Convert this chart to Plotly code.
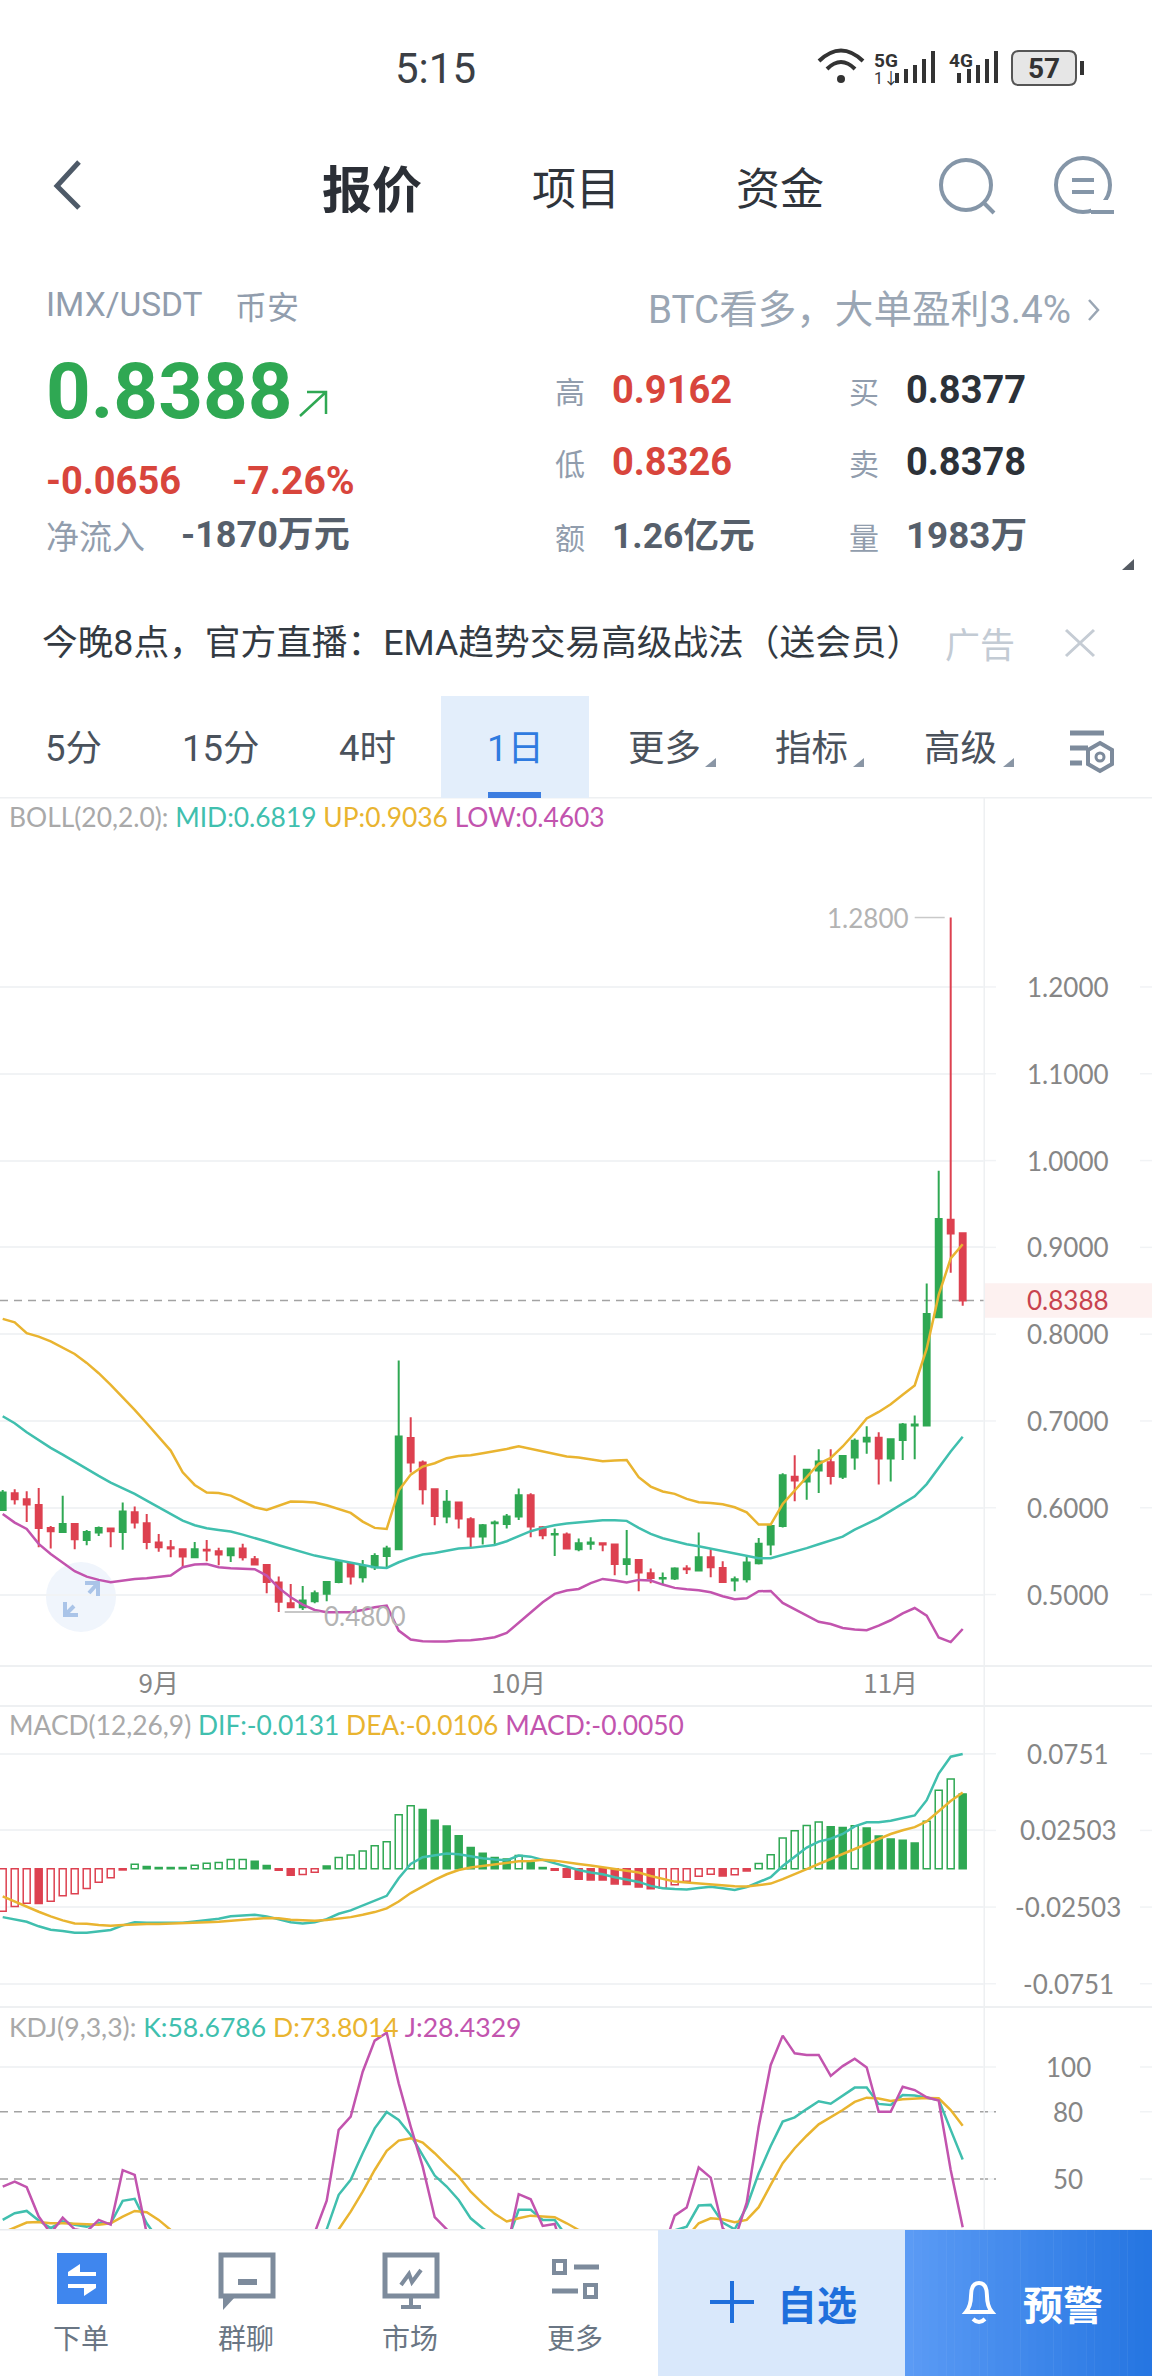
import plotly.graph_objects as go

W, H = 1152, 2376
GREEN = "#2fa853"
RED = "#dd4150"
TEAL = "#40bfae"
GOLD = "#e9b430"
PINK = "#c254ae"
AXIS_GREY = "#868686"
GRID = "#f1f3f5"
ICON = "#7d8b9c"
CN = "Noto Sans CJK SC"
NUM = "Roboto, Noto Sans CJK SC"
LAB = "Lato, Noto Sans CJK SC"

candle_open = [
    .5975, .6167, .6098, .6033, .5768, .5722, .5814, .5630, .5714, .5760,
    .5722, .5948, .5822, .5599, .5545, .5522, .5430, .5515, .5499, .5453,
    .5530, .5407, .5342, .5138, .4900, .4854, .4923, .5008, .5146, .5353,
    .5200, .5315, .5445, .5522, .6805, .6521, .6213, .5899, .6060, .5868,
    .5668, .5822, .5814, .5899, .6144, .5776, .5691, .5691, .5522, .5584,
    .5591, .5576, .5353, .5399, .5246, .5184, .5184, .5300, .5276, .5430,
    .5307, .5161, .5177, .5361, .5576, .5791, .6357, .6304, .6428, .6525,
    .6357, .6578, .6764, .6808, .6569, .6781, .6949, .6949, .8196, .9318, .9162,
]
candle_high = [
    .6206, .6213, .6190, .6229, .5791, .6137, .5820, .5745, .5783, .5768,
    .6060, .6014, .5929, .5699, .5630, .5530, .5607, .5630, .5538, .5530,
    .5584, .5445, .5346, .5207, .5123, .5100, .5046, .5146, .5392, .5369,
    .5399, .5476, .5561, .7696, .7043, .6544, .6220, .6206, .6068, .5891,
    .5814, .5852, .5929, .6221, .6167, .5791, .5760, .5714, .5645, .5660,
    .5599, .5584, .5745, .5407, .5300, .5253, .5315, .5338, .5714, .5530,
    .5384, .5207, .5453, .5653, .5806, .6397, .6604, .6437, .6675, .6675,
    .6604, .6799, .6940, .6870, .6799, .6976, .7064, .8585, .9884, 1.2800, .9162,
]
candle_low = [
    .5968, .6037, .5837, .5545, .5530, .5715, .5522, .5568, .5676, .5545,
    .5515, .5760, .5522, .5492, .5430, .5315, .5422, .5384, .5338, .5376,
    .5392, .5338, .5015, .4800, .4846, .4823, .4900, .4923, .5131, .5115,
    .5138, .5284, .5307, .5520, .6405, .6037, .5799, .5822, .5760, .5538,
    .5576, .5576, .5760, .5860, .5660, .5637, .5445, .5525, .5499, .5515,
    .5499, .5223, .5223, .5038, .5131, .5123, .5169, .5238, .5270, .5200,
    .5138, .5038, .5138, .5346, .5453, .5774, .6074, .6092, .6171, .6269,
    .6330, .6437, .6622, .6269, .6304, .6551, .6560, .6940, .8187, .8708, .8326,
]
candle_close = [
    .6175, .6098, .6037, .5768, .5730, .5814, .5637, .5722, .5768, .5730,
    .5956, .5829, .5607, .5545, .5530, .5438, .5522, .5507, .5461, .5530,
    .5430, .5346, .5146, .4916, .4854, .4931, .5015, .5146, .5384, .5207,
    .5330, .5445, .5530, .6820, .6521, .6213, .5906, .6068, .5876, .5668,
    .5799, .5829, .5899, .6144, .5783, .5684, .5699, .5530, .5591, .5599,
    .5576, .5353, .5407, .5253, .5192, .5192, .5300, .5292, .5430, .5315,
    .5146, .5177, .5369, .5584, .5791, .6375, .6313, .6437, .6534, .6366,
    .6596, .6772, .6808, .6569, .6790, .6958, .6958, .8231, .9327, .9159, .8388,
]
boll_up = [
    .8176, .8137, .8011, .7972, .7918, .7849, .7772, .7669, .7550, .7415,
    .7273, .7127, .6974, .6820, .6659, .6409, .6263, .6175, .6171, .6140,
    .6071, .6006, .5975, .6025, .6071, .6068, .6060, .6029, .5987, .5941,
    .5841, .5768, .5756, .6198, .6382, .6475, .6513, .6571, .6597, .6605,
    .6628, .6651, .6678, .6709, .6678, .6647, .6617, .6590, .6578, .6559,
    .6536, .6544, .6551, .6352, .6244, .6187, .6160, .6102, .6064, .6056,
    .6041, .6006, .5948, .5806, .5806, .6043, .6198, .6353, .6507, .6574,
    .6706, .6861, .7029, .7104, .7192, .7303, .7409, .7833, .8452, .8872, .9036,
]
boll_mid = [
    .7054, .6974, .6870, .6782, .6690, .6613, .6528, .6444, .6367, .6290,
    .6225, .6160, .6083, .6006, .5929, .5852, .5799, .5764, .5745, .5726,
    .5691, .5653, .5611, .5568, .5526, .5484, .5449, .5422, .5396, .5372,
    .5346, .5315, .5307, .5372, .5422, .5461, .5480, .5507, .5530, .5538,
    .5553, .5572, .5614, .5676, .5730, .5768, .5799, .5818, .5829, .5845,
    .5856, .5856, .5849, .5768, .5699, .5649, .5614, .5580, .5557, .5530,
    .5503, .5476, .5445, .5419, .5419, .5455, .5491, .5535, .5579, .5619,
    .5667, .5747, .5818, .5880, .5964, .6048, .6132, .6273, .6463, .6649, .6819,
]
boll_low = [
    .5929, .5829, .5756, .5584, .5468, .5372, .5269, .5207, .5169, .5142,
    .5161, .5180, .5188, .5204, .5219, .5315, .5346, .5353, .5315, .5303,
    .5300, .5292, .5219, .5077, .4969, .4885, .4823, .4796, .4796, .4796,
    .4823, .4854, .4873, .4585, .4482, .4462, .4459, .4459, .4470, .4474,
    .4489, .4508, .4558, .4670, .4793, .4912, .5008, .5046, .5065, .5131,
    .5180, .5161, .5138, .5169, .5161, .5115, .5077, .5061, .5050, .5027,
    .4981, .4946, .4958, .5038, .5042, .4903, .4828, .4752, .4686, .4660,
    .4615, .4598, .4589, .4642, .4704, .4783, .4845, .4757, .4505, .4452, .4603,
]
macd_hist = [
    -.0277, -.0246, -.0225, -.0227, -.0212, -.0177, -.0164, -.0129, -.0088, -.0058,
    -.0008, .0029, .0014, .0008, .0008, .0008, .0023, .0036, .0040, .0060,
    .0060, .0049, .0021, -.0010, -.0042, -.0038, -.0023, .0018, .0073, .0090,
    .0116, .0151, .0177, .0353, .0411, .0387, .0316, .0279, .0216, .0138,
    .0101, .0073, .0064, .0086, .0040, .0008, -.0010, -.0055, -.0068, -.0073,
    -.0074, -.0099, -.0103, -.0120, -.0131, -.0127, -.0105, -.0081, -.0049, -.0036,
    -.0047, -.0040, -.0014, .0034, .0092, .0201, .0248, .0283, .0305, .0275,
    .0270, .0281, .0266, .0214, .0194, .0186, .0168, .0311, .0513, .0587, .0489,
]
# 1 = drawn hollow in the app, 0 = solid
hist_hollow = [
    1, 1, 1, 0, 1, 1, 1, 1, 1, 1,
    0, 1, 0, 0, 0, 0, 1, 1, 1, 1,
    1, 0, 0, 0, 0, 1, 1, 0, 1, 1,
    1, 1, 1, 1, 1, 0, 0, 0, 0, 0,
    0, 0, 0, 1, 0, 0, 0, 0, 0, 0,
    0, 0, 0, 0, 0, 1, 1, 1, 1, 1,
    0, 1, 0, 1, 1, 1, 1, 1, 1, 0,
    0, 1, 0, 0, 0, 0, 0, 1, 1, 1, 0,
]
macd_dif = [
    -.0316, -.0329, -.0346, -.0376, -.0398, -.0407, -.0418, -.0418, -.0409, -.0400,
    -.0370, -.0350, -.0353, -.0353, -.0355, -.0353, -.0344, -.0335, -.0327, -.0311,
    -.0305, -.0301, -.0311, -.0333, -.0350, -.0357, -.0350, -.0329, -.0294, -.0272,
    -.0242, -.0207, -.0177, -.0062, .0031, .0075, .0086, .0099, .0094, .0079,
    .0068, .0060, .0055, .0086, .0079, .0058, .0036, .0010, -.0008, -.0025,
    -.0036, -.0055, -.0073, -.0086, -.0112, -.0127, -.0133, -.0136, -.0125, -.0118,
    -.0127, -.0138, -.0120, -.0090, -.0055, .0018, .0079, .0138, .0177, .0196,
    .0227, .0277, .0303, .0303, .0314, .0333, .0348, .0448, .0622, .0732, .0750,
]
macd_dea = [
    -.0181, -.0216, -.0251, -.0281, -.0311, -.0337, -.0357, -.0359, -.0368, -.0372,
    -.0368, -.0363, -.0361, -.0361, -.0359, -.0357, -.0353, -.0350, -.0346, -.0340,
    -.0333, -.0329, -.0322, -.0324, -.0333, -.0337, -.0340, -.0335, -.0327, -.0316,
    -.0301, -.0283, -.0259, -.0214, -.0159, -.0116, -.0073, -.0036, -.0008, .0008,
    .0018, .0029, .0038, .0049, .0051, .0058, .0053, .0040, .0031, .0021,
    .0010, -.0001, -.0010, -.0025, -.0047, -.0066, -.0084, -.0090, -.0097, -.0103,
    -.0107, -.0114, -.0116, -.0107, -.0097, -.0068, -.0038, -.0003, .0031, .0064,
    .0097, .0131, .0164, .0196, .0227, .0251, .0272, .0309, .0376, .0442, .0498,
]
# stretches under the footer bar cannot be read and are rough estimates
kdj_k = [
    31.7, 34.7, 35.7, 31.4, 28.0, 31.0, 29.5, 28.7, 30.2, 30.2,
    40.2, 41.1, 30.2, 22.8, 17.0, 14.0, 12.0, 11.0, 11.0, 10.0,
    10.0, 9.0, 8.0, 7.0, 8.0, 10.0, 16.0, 27.5, 42.9, 49.6,
    61.5, 72.6, 79.9, 76.3, 69.6, 60.7, 51.5, 46.6, 40.6, 32.4,
    28.0, 24.3, 21.3, 36.2, 36.2, 31.7, 31.7, 24.3, 20.0, 17.0,
    14.0, 12.0, 11.0, 12.0, 14.0, 18.0, 27.0, 28.7, 38.1, 38.4,
    30.5, 27.5, 37.6, 52.5, 64.7, 75.6, 77.5, 81.2, 84.7, 83.6,
    87.3, 90.8, 90.8, 83.5, 83.0, 87.5, 87.3, 86.2, 85.3, 71.9, 58.68,
]
kdj_d = [
    26.0, 28.4, 30.5, 30.8, 30.2, 30.2, 29.9, 29.5, 29.5, 30.2,
    33.2, 35.7, 35.1, 31.7, 27.2, 24.0, 21.0, 18.0, 16.0, 14.0,
    13.0, 12.0, 11.0, 10.0, 10.0, 11.0, 15.0, 21.0, 27.5, 35.4,
    44.3, 54.0, 62.6, 67.1, 68.2, 66.2, 61.5, 56.2, 51.0, 44.3,
    39.1, 34.4, 31.0, 32.4, 33.6, 33.2, 32.9, 30.2, 27.2, 25.0,
    23.0, 21.0, 19.0, 17.0, 16.0, 16.0, 19.0, 24.0, 30.2, 32.4,
    32.0, 30.7, 31.7, 37.4, 47.3, 57.0, 63.7, 69.3, 74.4, 77.5,
    80.8, 84.4, 86.3, 85.9, 84.8, 85.6, 86.0, 86.2, 86.0, 80.8, 73.8,
]
kdj_j = [
    46.6, 48.8, 46.3, 33.2, 25.7, 32.7, 27.5, 26.5, 31.7, 29.6,
    53.9, 51.8, 25.7, 12.0, 6.0, 2.0, 0.0, 2.0, 3.0, 2.0,
    3.0, 2.0, 2.0, 3.0, 4.0, 8.0, 26.0, 40.3, 71.9, 77.8,
    97.9, 111.8, 115.3, 92.7, 73.4, 55.5, 32.9, 27.5, 20.0, 12.0,
    6.0, 4.0, 18.3, 43.2, 40.9, 29.0, 29.9, 12.4, 8.0, 5.0,
    4.0, 3.0, 3.0, 5.0, 10.0, 18.0, 33.6, 37.2, 55.1, 50.6,
    28.0, 22.8, 39.4, 73.4, 100.9, 114.0, 106.1, 105.4, 105.4, 96.0,
    100.4, 103.7, 99.8, 80.0, 80.0, 91.2, 89.7, 86.5, 85.0, 54.0, 28.43,
]
days = list(range(len(candle_close)))
month_pos = [13, 43, 74]
month_labels = ["9月", "10月", "11月"]
price_ticks = [1.2, 1.1, 1.0, 0.9, 0.8, 0.7, 0.6, 0.5]
macd_ticks = [0.0751, 0.02503, -0.02503, -0.0751]
macd_tick_labels = ["0.0751", "0.02503", "-0.02503", "-0.0751"]
kdj_ticks = [100, 80, 50]
last_price = 0.8388

shapes = []
notes = []


def px(x):
    return x / W


def py(y):
    return 1 - y / H


def text(x, y, s, size, color, anchor="left", family=CN, bold=False):
    notes.append(dict(
        xref="paper", yref="paper", x=px(x), y=py(y), text="<b>{}</b>".format(s) if bold else s,
        showarrow=False, xanchor=anchor, yanchor="middle",
        font=dict(family=family, size=size, color=color),
    ))


def rect(x0, y0, x1, y1, fill, line=None, width=0, layer="above"):
    shapes.append(dict(
        type="rect", xref="paper", yref="paper", x0=px(x0), y0=py(y0), x1=px(x1), y1=py(y1),
        fillcolor=fill, line=dict(color=line or fill, width=width), layer=layer,
    ))


def circle(cx, cy, r, fill="rgba(0,0,0,0)", line=None, width=0, layer="above"):
    shapes.append(dict(
        type="circle", xref="paper", yref="paper", x0=px(cx - r), y0=py(cy - r), x1=px(cx + r), y1=py(cy + r),
        fillcolor=fill, line=dict(color=line or fill, width=width), layer=layer,
    ))


def path(d, color, width=3, fill="rgba(0,0,0,0)", layer="above"):
    # d is written in page pixels, converted here to paper coordinates
    out = []
    is_x = True
    for tok in d.split():
        if tok.isalpha():
            out.append(tok)
        elif is_x:
            out.append("{:.5f}".format(px(float(tok))))
            is_x = False
        else:
            out.append("{:.5f}".format(py(float(tok))))
            is_x = True
    shapes.append(dict(
        type="path", xref="paper", yref="paper", path=" ".join(out), fillcolor=fill,
        line=dict(color=color, width=width), layer=layer,
    ))


fig = go.Figure()

# price panel
fig.add_trace(go.Candlestick(
    x=days, open=candle_open, high=candle_high, low=candle_low, close=candle_close,
    increasing=dict(line=dict(color=GREEN, width=2), fillcolor=GREEN),
    decreasing=dict(line=dict(color=RED, width=2), fillcolor=RED),
    whiskerwidth=0, xaxis="x", yaxis="y",
))
for vals, col in [(boll_mid, TEAL), (boll_up, GOLD), (boll_low, PINK)]:
    fig.add_trace(go.Scatter(x=days, y=vals, mode="lines", line=dict(color=col, width=2.5), xaxis="x", yaxis="y"))

# macd panel
hist_col = [GREEN if v >= 0 else RED for v in macd_hist]
hist_fill = ["rgba(255,255,255,0.6)" if h else c for h, c in zip(hist_hollow, hist_col)]
fig.add_trace(go.Bar(
    x=days, y=macd_hist, width=0.58, xaxis="x2", yaxis="y2",
    marker=dict(color=hist_fill, line=dict(color=hist_col, width=1.5)),
))
for vals, col in [(macd_dif, TEAL), (macd_dea, GOLD)]:
    fig.add_trace(go.Scatter(x=days, y=vals, mode="lines", line=dict(color=col, width=2.5), xaxis="x2", yaxis="y2"))

# kdj panel
for vals, col in [(kdj_k, TEAL), (kdj_d, GOLD), (kdj_j, PINK)]:
    fig.add_trace(go.Scatter(x=days, y=vals, mode="lines", line=dict(color=col, width=2.5), xaxis="x3", yaxis="y3"))

# tick labels sit centred in the right column, so they are annotations tied to the y axes
for axis, ticks, labels in [
    ("y", price_ticks, ["{:.4f}".format(v) for v in price_ticks]),
    ("y2", macd_ticks, macd_tick_labels),
    ("y3", kdj_ticks, [str(v) for v in kdj_ticks]),
]:
    for v, lab in zip(ticks, labels):
        notes.append(dict(
            xref="paper", yref=axis, x=px(1068), y=v, text=lab, showarrow=False, xanchor="center",
            font=dict(family=LAB, size=26, color=AXIS_GREY),
        ))
        for a, b in [(984, 996), (1140, 1152)]:
            shapes.append(dict(
                type="line", xref="paper", yref=axis, x0=px(a), x1=px(b), y0=v, y1=v,
                line=dict(color=GRID, width=1.5), layer="below",
            ))

# last price marker
shapes.append(dict(type="rect", xref="paper", yref="y", x0=px(984), x1=1, y0=last_price - 0.02, y1=last_price + 0.02,
                   fillcolor="#fdf1f0", line=dict(width=0), layer="below"))
shapes.append(dict(type="line", xref="paper", yref="y", x0=0, x1=px(984), y0=last_price, y1=last_price,
                   line=dict(color="#a3a3a3", width=1.5, dash="8px,6px"), layer="below"))
notes.append(dict(xref="paper", yref="y", x=px(1068), y=last_price, text="{:.4f}".format(last_price), showarrow=False,
                  xanchor="center", font=dict(family=LAB, size=26, color="#c8434f")))

# high / low labels on the candles
hi = max(candle_high)
lo = min(candle_low)
hi_i = candle_high.index(hi)
lo_i = candle_low.index(lo)
shapes.append(dict(type="line", xref="x", yref="y", x0=hi_i - 3.0, x1=hi_i - 0.5, y0=hi, y1=hi,
                   line=dict(color="#c9c9c9", width=1.5)))
notes.append(dict(xref="x", yref="y", x=hi_i - 3.3, y=hi, text="{:.4f}".format(hi), showarrow=False, xanchor="right",
                  font=dict(family=LAB, size=26, color="#b3b3b3")))
shapes.append(dict(type="line", xref="x", yref="y", x0=lo_i + 0.5, x1=lo_i + 3.4, y0=lo, y1=lo,
                   line=dict(color="#b5b5b5", width=1.5)))
notes.append(dict(xref="x", yref="y", x=lo_i + 3.6, y=lo, yshift=-4, text="{:.4f}".format(lo), showarrow=False,
                  xanchor="left", font=dict(family=LAB, size=26, color="#b3b3b3")))

# kdj reference lines
for v in [80, 50]:
    shapes.append(dict(type="line", xref="paper", yref="y3", x0=0, x1=px(996), y0=v, y1=v,
                       line=dict(color="#a3a3a3", width=1.5, dash="8px,6px"), layer="below"))

# panel rules
rect(0, 797, W, 798.5, "#eef0f2", layer="below")
rect(0, 1665, W, 1667, "#eef0f2", layer="below")
rect(0, 1705, W, 1707, "#eef0f2", layer="below")
rect(0, 2006, W, 2008, "#eef0f2", layer="below")
rect(983.5, 798, 985, 2229, "#eef0f2", layer="below")

# indicator headers


def header(y, name, parts, size):
    spans = "".join('<span style="color:{}">{}</span> '.format(c, t) for t, c in parts)
    text(7, y, '<span style="color:#a9a9a9">{}</span> {}'.format(name, spans), size, "#a9a9a9", family=LAB)


header(817, "BOLL(20,2.0):", [("MID:0.6819", TEAL), ("UP:0.9036", GOLD), ("LOW:0.4603", PINK)], 26.4)
header(1725, "MACD(12,26,9)", [("DIF:-0.0131", TEAL), ("DEA:-0.0106", GOLD), ("MACD:-0.0050", PINK)], 26.4)
header(2027, "KDJ(9,3,3):", [("K:58.6786", TEAL), ("D:73.8014", GOLD), ("J:28.4329", PINK)], 26.6)

# expand button on the chart
circle(81, 1597, 35, fill="#f0f5fc", layer="below")
path("M 85 1583 L 98 1583 L 98 1596 M 98 1583 L 89 1593", "#aac4e8", 4)
path("M 78 1615 L 65 1615 L 65 1602 M 65 1615 L 74 1606", "#aac4e8", 4)

# status bar
text(435, 68, "5:15", 42, "#3b3f45", "center", family=NUM)
path("M 819 61 Q 841 40 863 61", "#333333", 4)
path("M 827 69 Q 841 55 855 69", "#333333", 4)
circle(841, 79, 4, fill="#333333")
text(886, 60, "5G", 19, "#333333", "center", family=NUM, bold=True)
text(886, 78, "1↓", 16, "#333333", "center", family=NUM)
text(961, 60, "4G", 19, "#333333", "center", family=NUM, bold=True)
for x, h in [(897, 10), (906, 14), (915, 18), (924, 24), (933, 32)]:
    path("M {} 83 L {} {}".format(x, x, 83 - h), "#333333", 4)
for x, h in [(959, 10), (969, 14), (978, 18), (987, 24), (996, 32)]:
    path("M {} 83 L {} {}".format(x, x, 83 - h), "#333333", 4)
path("M 1019 51 L 1069 51 Q 1076 51 1076 58 L 1076 78 Q 1076 85 1069 85 L 1019 85 Q 1012 85 1012 78 L 1012 58 Q 1012 51 1019 51 Z",
     "#555555", 2, fill="#e6e6e6")
text(1044, 68, "57", 28, "#333333", "center", family=NUM, bold=True)
path("M 1082 61 L 1082 75", "#333333", 4)

# nav bar
path("M 79 162 L 57 186 L 79 208", "#4e5a68", 5)
text(372, 186, "报价", 50, "#2b2f36", "center", bold=True)
text(576, 186, "项目", 44, "#2f343b", "center")
text(780, 186, "资金", 44, "#2f343b", "center")
circle(966, 185, 25, line="#8596a8", width=4)
path("M 984 203 L 994 213", "#8596a8", 4)
circle(1083, 185, 27, line="#8596a8", width=4)
path("M 1072 180 L 1094 180 M 1072 192 L 1094 192", "#8596a8", 4)
rect(1091, 200, 1118, 218, "#ffffff")
path("M 1091 212 L 1114 212", "#8596a8", 4)

# quote block
SUB = "#919dad"
DARK = "#2c3138"
QRED = "#d8453c"
text(44, 305, "IMX/USDT", 33.5, SUB, family=NUM)
text(233, 305, "币安", 32, SUB)
text(1073, 310, "BTC看多，大单盈利3.4%", 38.6, "#9aa6b4", "right", family=NUM)
path("M 1089 300 L 1098 310 L 1089 320", "#9aa6b4", 2.5)
text(44, 391, "<b>0.8388</b>", 78, GREEN, family=NUM)
path("M 300 416 L 326 392 M 307 392 L 326 392 L 326 414", GREEN, 2.5)
text(44, 481, "-0.0656", 38, QRED, family=NUM, bold=True)
text(230, 481, "-7.26%", 39, QRED, family=NUM, bold=True)
text(44, 535, "净流入", 33, SUB)
text(179, 535, "-1870万元", 36, "#565f6b", family=NUM, bold=True)

for y, lab, val, size, col in [(390, "高", "0.9162", 38, QRED), (462, "低", "0.8326", 38, QRED),
                               (536, "额", "1.26亿元", 35.5, "#565f6b")]:
    text(553, y, lab, 30, SUB)
    text(610, y, val, size, col, family=NUM, bold=True)
for y, lab, val, size, col in [(390, "买", "0.8377", 38, DARK), (462, "卖", "0.8378", 38, DARK),
                               (536, "量", "1983万", 36.8, "#565f6b")]:
    text(847, y, lab, 30, SUB)
    text(904, y, val, size, col, family=NUM, bold=True)
path("M 1134 559 L 1134 570 L 1122 570 Z", "#555b63", 0, fill="#555b63")

# ad strip
text(40, 643, "今晚8点，官方直播：EMA趋势交易高级战法（送会员）", 35.7, "#333a42", family=NUM)
text(943, 643, "广告", 35, "#c3cbd4")
path("M 1066 630 L 1094 656 M 1094 630 L 1066 656", "#c5ccd4", 3)

# period tabs
rect(441, 696, 589, 798, "#e3eefb", layer="below")
rect(488, 792, 541, 798, "#3c7de0")
for x, lab in [(43, "5分"), (180, "15分"), (337, "4时"), (626, "更多"), (773, "指标"), (922, "高级")]:
    text(x, 748, lab, 36.5, "#4a525c", family=NUM)
text(515, 748, "1日", 36.5, "#2f7be0", "center", family=NUM)
for x in [705, 853, 1003]:
    path("M {} 767 L {} 767 L {} 758 Z".format(x, x + 11, x + 11), "#8a96a5", 0, fill="#8a96a5")
path("M 1070 733 L 1104 733 M 1070 748 L 1088 748 M 1070 763 L 1082 763", ICON, 5)
path("M 1100 743 L 1112 750 L 1112 764 L 1100 771 L 1088 764 L 1088 750 Z", ICON, 4)
circle(1100, 757, 4, line=ICON, width=3)

# footer bar, drawn over the clipped kdj lines
rect(0, 2229, W, H, "#ffffff")
rect(0, 2229, W, 2230.5, "#e9ecef")
rect(658, 2230, 905, H, "#d9e8fb")
steps = 30
for i in range(steps):
    t = i / (steps - 1)
    c = "rgb({},{},{})".format(int(91 - 53 * t), int(155 - 37 * t), int(245 - 19 * t))
    rect(905 + 247 * i / steps, 2230, 905 + 247 * (i + 1) / steps + 0.5, H, c)

rect(57, 2253, 107, 2304, "#3f86ee")
path("M 68 2272 L 96 2272 L 96 2276 L 68 2276 Z", "#ffffff", 0, fill="#ffffff")
path("M 68 2272 L 80 2264 L 80 2272 Z", "#ffffff", 0, fill="#ffffff")
path("M 68 2284 L 96 2284 L 96 2288 L 68 2288 Z", "#ffffff", 0, fill="#ffffff")
path("M 96 2288 L 84 2296 L 84 2288 Z", "#ffffff", 0, fill="#ffffff")

rect(221, 2255, 273, 2296, "#ffffff", ICON, 5)
path("M 223 2296 L 223 2310 L 236 2296 Z", ICON, 0, fill=ICON)
rect(238, 2279, 257, 2285, ICON)

rect(385, 2255, 437, 2296, "#ffffff", ICON, 5)
path("M 401 2285 L 409 2274 L 412 2282 L 421 2270", ICON, 4)
path("M 411 2296 L 411 2306 M 401 2307 L 421 2307", ICON, 4)

path("M 574 2267 L 599 2267 M 552 2291 L 578 2291", ICON, 5)
rect(554, 2261, 565, 2273, "#ffffff", ICON, 4)
rect(585, 2285, 596, 2297, "#ffffff", ICON, 4)

for x, lab in [(81, "下单"), (246, "群聊"), (410, "市场"), (575, "更多")]:
    text(x, 2337, lab, 28, "#6a7684", "center")

path("M 710 2302 L 754 2302 M 732 2281 L 732 2323", "#1f6fdc", 4)
text(817, 2303, "自选", 40, "#1f6fdc", "center", bold=True)
path("M 966 2312 Q 971 2306 971 2296 Q 971 2283 979 2283 Q 987 2283 987 2296 Q 987 2306 992 2312 Z", "#ffffff", 4)
path("M 973 2319 Q 979 2325 985 2319", "#ffffff", 4)
text(1063, 2303, "预警", 40, "#ffffff", "center", bold=True)

x_range = [-0.225, 81.775]
x_dom = [0, 984 / W]
fig.update_layout(
    width=W, height=H, margin=dict(l=0, r=0, t=0, b=0), showlegend=False, plot_bgcolor="#ffffff",
    paper_bgcolor="#ffffff", shapes=shapes, annotations=notes, barmode="overlay",
    xaxis=dict(domain=x_dom, range=x_range, anchor="y", rangeslider=dict(visible=False), showgrid=False, zeroline=False,
               tickmode="array", tickvals=month_pos, ticktext=month_labels, ticks="", showline=False,
               tickfont=dict(family=CN, size=26, color=AXIS_GREY)),
    xaxis2=dict(domain=x_dom, range=x_range, anchor="y2", visible=False, matches="x"),
    xaxis3=dict(domain=x_dom, range=x_range, anchor="y3", visible=False, matches="x"),
    yaxis=dict(domain=[py(1666), py(800)], range=[0.4177, 1.4154], anchor="x", tickmode="array", tickvals=price_ticks,
               showticklabels=False, gridcolor=GRID, gridwidth=1.5, zeroline=False, showline=False),
    yaxis2=dict(domain=[py(2007), py(1706)], range=[-0.0903, 0.1063], anchor="x2", tickmode="array", tickvals=macd_ticks,
                showticklabels=False, gridcolor=GRID, gridwidth=1.5, zeroline=False, showline=False),
    yaxis3=dict(domain=[py(2229.3), py(2007)], range=[27.5, 126.8], anchor="x3", tickmode="array", tickvals=[100],
                showticklabels=False, gridcolor=GRID, gridwidth=1.5, zeroline=False, showline=False),
)

fig.write_html("out.html", config=dict(displayModeBar=False), post_script="document.body.style.margin='0';")
